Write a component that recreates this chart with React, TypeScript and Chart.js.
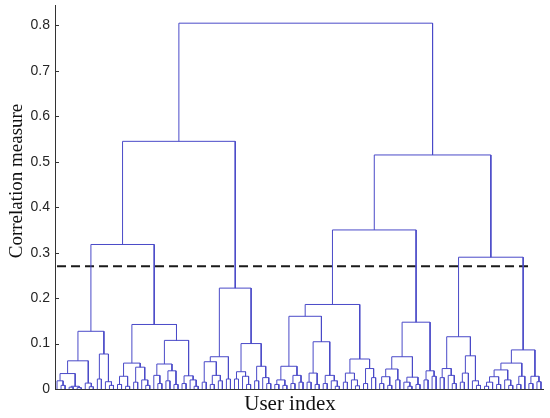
import React, { useEffect, useRef } from "react";
import { Chart, registerables } from "chart.js";

Chart.register(...registerables);

type Node = 0 | [number, Node, Node];

// Merge heights of the dendrogram, written as nested [height, left, right]; 0 = a user (leaf)
const clusterA1: Node = [0.127,
  [0.062,
    [0.034, [0.018, 0, [0.008, 0, 0]], [0.006, [0.004, 0, 0], [0.003, 0, 0]]],
    [0.013, 0, [0.005, 0, 0]]],
  [0.077, [0.022, 0, 0], [0.016, 0, [0.008, 0, 0]]]];

const clusterA2: Node = [0.142,
  [0.057,
    [0.028, [0.01, 0, 0], [0.006, 0, 0]],
    [0.048, [0.015, 0, 0], [0.02, 0, [0.008, 0, 0]]]],
  [0.107,
    [0.055, [0.03, 0, [0.012, 0, 0]], [0.04, [0.018, 0, 0], [0.01, 0, 0]]],
    [0.029, [0.012, 0, 0], [0.02, 0, [0.006, 0, 0]]]]];

const clusterB1: Node = [0.071,
  [0.06, [0.015, 0, 0], [0.03, [0.01, 0, 0], [0.018, 0, 0]]],
  [0.022, 0, 0]];

const clusterB2: Node = [0.10,
  [0.038, [0.022, 0, 0], [0.028, 0, [0.01, 0, 0]]],
  [0.05, [0.018, 0, 0], [0.025, 0, [0.012, 0, 0]]]];

const clusterC1: Node = [0.16,
  [0.05, [0.02, [0.01, 0, 0], [0.008, 0, 0]], [0.03, [0.012, 0, 0], [0.015, 0, 0]]],
  [0.104, [0.035, [0.015, 0, 0], [0.01, 0, 0]], [0.03, [0.012, 0, 0], [0.018, 0, [0.006, 0, 0]]]]];

const clusterC2: Node = [0.066,
  [0.035, [0.015, 0, 0], [0.02, 0, [0.007, 0, 0]]],
  [0.045, [0.012, 0, 0], [0.025, 0, 0]]];

const clusterD1: Node = [0.071,
  [0.044, [0.027, [0.012, 0, 0], [0.008, 0, 0]], [0.02, 0, 0]],
  [0.026, [0.015, 0, [0.006, 0, 0]], [0.01, 0, 0]]];

const clusterD2: Node = [0.04, [0.02, 0, 0], [0.028, 0, 0]];

const clusterE1: Node = [0.045, [0.025, 0, 0], [0.03, 0, [0.012, 0, 0]]];

const clusterE2: Node = [0.073, [0.035, [0.015, 0, 0], 0], [0.018, 0, [0.008, 0, 0]]];

const clusterF1: Node = [0.057,
  [0.042,
    [0.027, [0.015, [0.006, 0, 0], 0], [0.01, 0, 0]],
    [0.02, 0, [0.008, 0, 0]]],
  [0.028, [0.01, 0, 0], 0]];

const clusterF2: Node = [0.028, [0.012, 0, 0], [0.016, 0, 0]];

// Upper merges
const clusterA: Node = [0.318, clusterA1, clusterA2];
const clusterB: Node = [0.222, clusterB1, clusterB2];
const clusterC: Node = [0.186, clusterC1, clusterC2];
const clusterD: Node = [0.147, clusterD1, clusterD2];
const clusterE: Node = [0.115, clusterE1, clusterE2];
const clusterF: Node = [0.086, clusterF1, clusterF2];
const leftBranch: Node = [0.545, clusterA, clusterB];
const rightBranch: Node = [0.515, [0.35, clusterC, clusterD], [0.29, clusterE, clusterF]];
const tree: Node = [0.805, leftBranch, rightBranch];

const yTicks = [0, 0.1, 0.2, 0.3, 0.4, 0.5, 0.6, 0.7, 0.8];
const yMax = 0.845;
const cutoffLevel = 0.27;
const cutoffFrom = 1;
const cutoffTo = 119;
const xLabel = "User index";
const yLabel = "Correlation measure";

type Pt = { x: number; y: number | null };

function buildLinks(root: Node) {
  const pts: Pt[] = [];
  let leaf = 0;
  const walk = (n: Node): { x: number; y: number } => {
    if (n === 0) {
      leaf += 1;
      return { x: leaf, y: 0 };
    }
    const [h, l, r] = n;
    const a = walk(l);
    const b = walk(r);
    pts.push({ x: a.x, y: a.y }, { x: a.x, y: h }, { x: b.x, y: h }, { x: b.x, y: b.y }, { x: b.x, y: null });
    return { x: (a.x + b.x) / 2, y: h };
  };
  walk(root);
  return { pts, leafCount: leaf };
}

const decor = {
  id: "decor",
  afterDraw(chart: any) {
    const { ctx, chartArea, scales } = chart;
    const y = scales.y;
    ctx.save();
    ctx.strokeStyle = "#333333";
    ctx.lineWidth = 1;
    for (const v of yTicks) {
      const py = Math.round(y.getPixelForValue(v)) + 0.5;
      ctx.beginPath();
      ctx.moveTo(chartArea.left, py);
      ctx.lineTo(chartArea.left + 4, py);
      ctx.stroke();
    }
    ctx.fillStyle = "#111111";
    ctx.textAlign = "center";
    ctx.textBaseline = "middle";
    ctx.font = '19px "Liberation Serif", "Times New Roman", serif';
    ctx.save();
    ctx.translate(17, chartArea.top + 176);
    ctx.rotate(-Math.PI / 2);
    ctx.fillText(yLabel, 0, 0);
    ctx.restore();
    ctx.font = '21px "Liberation Serif", "Times New Roman", serif';
    ctx.fillText(xLabel, 290, chartArea.bottom + 15);
    ctx.restore();
  },
};

export default function App() {
  const ref = useRef<HTMLCanvasElement | null>(null);
  useEffect(() => {
    if (!ref.current) return;
    const { pts, leafCount } = buildLinks(tree);
    const chart = new Chart(ref.current, {
      type: "line",
      data: {
        datasets: [
          {
            data: pts as any,
            borderColor: "#4a4ac8",
            borderWidth: 1,
            pointRadius: 0,
            spanGaps: false,
            tension: 0,
            fill: false,
          },
          {
            data: [
              { x: cutoffFrom, y: cutoffLevel },
              { x: cutoffTo, y: cutoffLevel },
            ] as any,
            borderColor: "#1a1a1a",
            borderWidth: 2,
            borderDash: [9, 5],
            pointRadius: 0,
            fill: false,
          },
        ],
      },
      options: {
        animation: false,
        responsive: false,
        events: [],
        layout: { padding: { top: 5, right: 7, left: 0, bottom: 0 } },
        plugins: { legend: { display: false }, tooltip: { enabled: false } },
        scales: {
          x: {
            type: "linear",
            min: 0.5,
            max: leafCount + 0.5,
            ticks: { display: false },
            grid: { drawOnChartArea: false, drawTicks: false },
            border: { display: true, color: "#333333", width: 1 },
            afterFit: (s: any) => {
              s.height = 29;
              s.paddingLeft = 0;
              s.paddingRight = 0;
            },
          },
          y: {
            type: "linear",
            min: 0,
            max: yMax,
            afterBuildTicks: (s: any) => {
              s.ticks = yTicks.map((v) => ({ value: v }));
            },
            ticks: {
              callback: (v: any) => (Number(v) === 0 ? "0" : Number(v).toFixed(1)),
              font: { family: '"Liberation Sans", Arial, sans-serif', size: 14 },
              color: "#262626",
              padding: 5,
            },
            grid: { drawOnChartArea: false, drawTicks: false },
            border: { display: true, color: "#333333", width: 1 },
            afterFit: (s: any) => {
              s.width = 55;
              s.paddingTop = 0;
              s.paddingBottom = 0;
            },
          },
        },
      },
      plugins: [decor],
    });
    return () => chart.destroy();
  }, []);
  return (
    <div style={{ position: "absolute", left: 0, top: 0, width: 550, height: 418, background: "#fff" }}>
      <canvas ref={ref} width={550} height={418} style={{ display: "block" }} />
    </div>
  );
}
